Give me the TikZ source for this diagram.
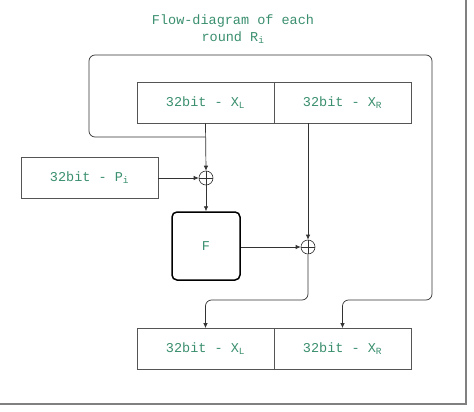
\documentclass[tikz,border=0pt]{standalone}
\usepackage{fontspec}
\setmonofont{Liberation Mono}
\usetikzlibrary{arrows.meta}
\definecolor{txt}{HTML}{3A8F6E}
\definecolor{boxc}{HTML}{555555}
\definecolor{linec}{HTML}{333333}
\begin{document}
\begin{tikzpicture}[x=1pt,y=-1pt,
  font=\ttfamily\fontsize{13.5}{17}\selectfont,
  box/.style={draw=boxc, line width=0.8pt, minimum width=137pt, minimum height=41pt, inner sep=0pt, text=txt},
  fbox/.style={draw=black, line width=1.5pt, rounded corners=5pt, minimum width=68pt, minimum height=68pt, inner sep=0pt, text=txt},
  xor/.style={circle, draw=linec, line width=0.6pt, minimum size=14pt, inner sep=0pt},
  conn/.style={draw=linec, line width=0.7pt, -{Latex[length=5pt,width=4.5pt]}},
  plain/.style={draw=linec, line width=0.7pt},
  frame/.style={draw=gray, line width=1.2pt}]
\useasboundingbox (0,0) rectangle (474,412);
\draw[frame] (466,0) -- (466,404) -- (0,404);
\node[text=txt, align=center] (title) at (233,29) {Flow-diagram of each\\round R\textsubscript{i}};
\node[box] (xl1) at (205.5,102.5) {32bit - X\textsubscript{L}};
\node[box] (xr1) at (342.5,102.5) {32bit - X\textsubscript{R}};
\node[box] (pi) at (89.5,178) {32bit - P\textsubscript{i}};
\node[xor] (xor1) at (206,178) {};
\node[fbox] (f) at (206,246) {F};
\node[xor] (xor2) at (308,247) {};
\node[box] (xl2) at (205.5,349) {32bit - X\textsubscript{L}};
\node[box] (xr2) at (342.5,349) {32bit - X\textsubscript{R}};
\draw[plain] (xor1.north) -- (xor1.south) (xor1.west) -- (xor1.east);
\draw[plain] (xor2.north) -- (xor2.south) (xor2.west) -- (xor2.east);
\coordinate (br) at (205.5,137);
\draw[conn] (xl1.south) -- (xor1.north);
\draw[conn] (pi.east) -- (xor1.west);
\draw[conn] (xor1.south) -- (f.north);
\draw[conn] (f.east |- xor2) -- (xor2.west);
\draw[conn] (xor2 |- xr1.south) -- (xor2.north);
\draw[conn, rounded corners=6pt] (xor2.south) -- (308,300) -| (xl2.north);
\draw[conn, rounded corners=6pt] (br) -- (89,137) -- (89,55) -- (432,55) -- (432,300) -| (xr2.north);
\end{tikzpicture}
\end{document}
